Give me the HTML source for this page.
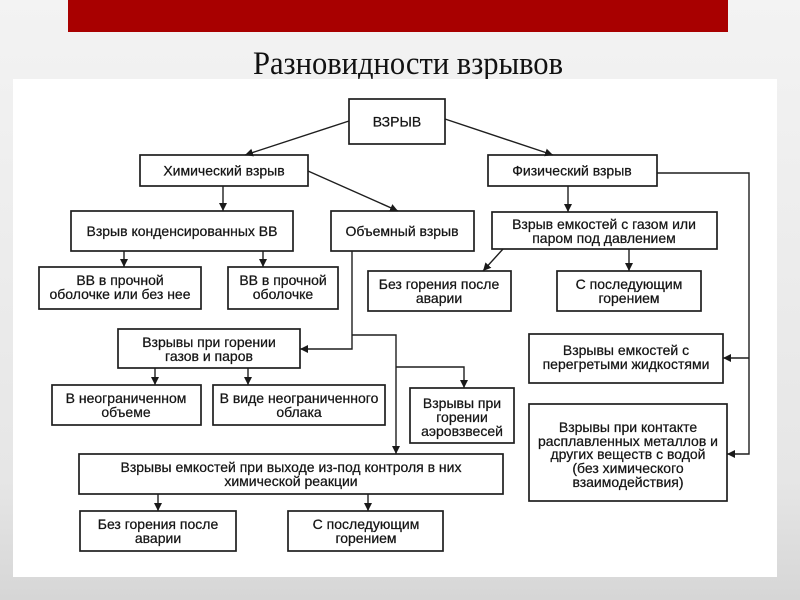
<!DOCTYPE html>
<html><head><meta charset="utf-8">
<style>
html,body{margin:0;padding:0;width:800px;height:600px;overflow:hidden;background:#e9e9e9;}
svg{display:block;}
text{font-family:"Liberation Sans","Noto Sans CJK SC",sans-serif;}
</style></head>
<body>
<svg width="800" height="600" viewBox="0 0 800 600" xmlns="http://www.w3.org/2000/svg">
<defs>
<linearGradient id="bg" x1="0" y1="0" x2="0" y2="1">
<stop offset="0" stop-color="#f3f3f3"/>
<stop offset="0.8" stop-color="#e6e6e6"/>
<stop offset="1" stop-color="#d6d6d6"/>
</linearGradient>
<marker id="ar" viewBox="0 0 10 10" refX="10" refY="5" markerWidth="8" markerHeight="8" markerUnits="userSpaceOnUse" orient="auto">
<path d="M0,0 L10,5 L0,10 z" fill="#1a1a1a"/>
</marker>
</defs>
<rect x="0" y="0" width="800" height="600" fill="url(#bg)"/>
<rect x="68" y="0" width="660" height="32" fill="#a80000"/>
<text x="253" y="74" font-size="33" textLength="310" lengthAdjust="spacingAndGlyphs" style="font-family:'Liberation Serif',serif" fill="#111">Разновидности взрывов</text>
<rect x="13" y="79" width="764" height="498" fill="#ffffff"/>

<g fill="none" stroke="#1e1e1e" stroke-width="1.7">
<rect x="349" y="99" width="96" height="45"/>
<rect x="140" y="155" width="168" height="31"/>
<rect x="488" y="155" width="169" height="31"/>
<rect x="71" y="211" width="222" height="40"/>
<rect x="331" y="211" width="143" height="40"/>
<rect x="492" y="212" width="225" height="37"/>
<rect x="39" y="267" width="162" height="42"/>
<rect x="228" y="267" width="110" height="42"/>
<rect x="368" y="271" width="143" height="40"/>
<rect x="557" y="271" width="144" height="40"/>
<rect x="118" y="329" width="182" height="39"/>
<rect x="529" y="334" width="194" height="49"/>
<rect x="52" y="385" width="149" height="40"/>
<rect x="213" y="385" width="172" height="40"/>
<rect x="410" y="388" width="104" height="55"/>
<rect x="529" y="404" width="198" height="97"/>
<rect x="79" y="454" width="424" height="40"/>
<rect x="80" y="511" width="156" height="40"/>
<rect x="288" y="511" width="155" height="40"/>
</g>

<g fill="none" stroke="#1e1e1e" stroke-width="1.4">
<line x1="349" y1="121" x2="245" y2="155" marker-end="url(#ar)"/>
<line x1="445" y1="119" x2="553" y2="155" marker-end="url(#ar)"/>
<line x1="308" y1="171" x2="398" y2="211" marker-end="url(#ar)"/>
<line x1="223" y1="186" x2="223" y2="211" marker-end="url(#ar)"/>
<line x1="568" y1="186" x2="568" y2="212" marker-end="url(#ar)"/>
<line x1="124" y1="251" x2="124" y2="267" marker-end="url(#ar)"/>
<line x1="263" y1="251" x2="263" y2="267" marker-end="url(#ar)"/>
<polyline points="352,251 352,349 300,349" marker-end="url(#ar)"/>
<polyline points="352,335 396,335 396,454" marker-end="url(#ar)"/>
<polyline points="396,367 464,367 464,388" marker-end="url(#ar)"/>
<line x1="155" y1="368" x2="155" y2="385" marker-end="url(#ar)"/>
<line x1="248" y1="368" x2="248" y2="385" marker-end="url(#ar)"/>
<line x1="503" y1="249" x2="483" y2="271" marker-end="url(#ar)"/>
<line x1="629" y1="249" x2="629" y2="271" marker-end="url(#ar)"/>
<polyline points="657,173 749,173 749,454 727,454" marker-end="url(#ar)"/>
<line x1="749" y1="358" x2="723" y2="358" marker-end="url(#ar)"/>
<line x1="158" y1="494" x2="158" y2="511" marker-end="url(#ar)"/>
<line x1="368" y1="494" x2="368" y2="511" marker-end="url(#ar)"/>
</g>

<g font-size="14" fill="#151515" stroke="#151515" stroke-width="0.25" text-anchor="middle">
<text x="397" y="126.5">ВЗРЫВ</text>
<text x="224" y="175.5">Химический взрыв</text>
<text x="572" y="175.5">Физический взрыв</text>
<text x="182" y="236">Взрыв конденсированных ВВ</text>
<text x="402" y="236">Объемный взрыв</text>
<text x="604" y="229">Взрыв емкостей с газом или</text>
<text x="604" y="243">паром под давлением</text>
<text x="120" y="285">ВВ в прочной</text>
<text x="120" y="299">оболочке или без нее</text>
<text x="283" y="285">ВВ в прочной</text>
<text x="283" y="299">оболочке</text>
<text x="439" y="289">Без горения после</text>
<text x="439" y="303">аварии</text>
<text x="629" y="289">С последующим</text>
<text x="629" y="303">горением</text>
<text x="209" y="347">Взрывы при горении</text>
<text x="209" y="361">газов и паров</text>
<text x="626" y="355">Взрывы емкостей с</text>
<text x="626" y="369">перегретыми жидкостями</text>
<text x="126" y="403">В неограниченном</text>
<text x="126" y="417">объеме</text>
<text x="299" y="403">В виде неограниченного</text>
<text x="299" y="417">облака</text>
<text x="462" y="408">Взрывы при</text>
<text x="462" y="422">горении</text>
<text x="462" y="436">аэровзвесей</text>
<text x="628" y="432">Взрывы при контакте</text>
<text x="628" y="446">расплавленных металлов и</text>
<text x="628" y="459">других веществ с водой</text>
<text x="628" y="473">(без химического</text>
<text x="628" y="487">взаимодействия)</text>
<text x="291" y="472">Взрывы емкостей при выходе из-под контроля в них</text>
<text x="291" y="486">химической реакции</text>
<text x="158" y="529">Без горения после</text>
<text x="158" y="543">аварии</text>
<text x="366" y="529">С последующим</text>
<text x="366" y="543">горением</text>
</g>
</svg>
</body></html>
